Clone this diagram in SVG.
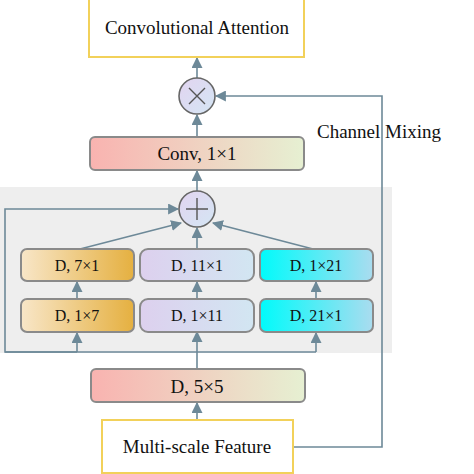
<svg xmlns="http://www.w3.org/2000/svg" width="474" height="474" viewBox="0 0 474 474">
<defs>
<linearGradient id="gPink" x1="0" y1="0" x2="1" y2="0"><stop offset="0" stop-color="#f9b3b0"/><stop offset="1" stop-color="#e6f0d2"/></linearGradient>
<linearGradient id="gGold" x1="0" y1="0" x2="1" y2="0"><stop offset="0" stop-color="#f8e6c8"/><stop offset="1" stop-color="#e5b040"/></linearGradient>
<linearGradient id="gLav" x1="0" y1="0" x2="1" y2="0"><stop offset="0" stop-color="#ddd0ee"/><stop offset="1" stop-color="#d2e6f2"/></linearGradient>
<linearGradient id="gCyan" x1="0" y1="0" x2="1" y2="0"><stop offset="0" stop-color="#00fbfb"/><stop offset="1" stop-color="#aadcef"/></linearGradient>
<linearGradient id="gCirc" x1="0" y1="0" x2="1" y2="1"><stop offset="0" stop-color="#e2d4f0"/><stop offset="1" stop-color="#d4e6f4"/></linearGradient>
<marker id="ah" viewBox="0 0 10 10" refX="9" refY="5" markerWidth="11" markerHeight="11" markerUnits="userSpaceOnUse" orient="auto"><path d="M0,0 L10,5 L0,10 Z" fill="#6d8998"/></marker>
<style>
.ln{stroke:#6d8998;stroke-width:1.6;fill:none}
.box{stroke:#8a8a8a;stroke-width:2}
.yb{fill:#fff;stroke:#f2d15a;stroke-width:2}
.t{font-family:"Liberation Serif","Times New Roman",serif;fill:#111;text-anchor:middle}
.big{font-size:19px}
.sm{font-size:16px}
.circ{fill:url(#gCirc);stroke:#666;stroke-width:1.6}
</style>
</defs>
<rect x="0" y="187" width="392" height="166" fill="#eeeeee"/>
<g id="connectors">
<line class="ln" x1="197" y1="78" x2="197" y2="58" marker-end="url(#ah)"/>
<line class="ln" x1="197" y1="137" x2="197" y2="115" marker-end="url(#ah)"/>
<polyline class="ln" points="293,447 382,447 382,96 216,96" marker-end="url(#ah)"/>
<line class="ln" x1="197" y1="191" x2="197" y2="171" marker-end="url(#ah)"/>
<polyline class="ln" points="77,352 5,352 5,209 178,209" marker-end="url(#ah)"/>
<line class="ln" x1="5" y1="352" x2="316" y2="352"/>
<line class="ln" x1="77" y1="352" x2="77" y2="333" marker-end="url(#ah)"/>
<line class="ln" x1="316" y1="352" x2="316" y2="333" marker-end="url(#ah)"/>
<line class="ln" x1="197" y1="369" x2="197" y2="332" marker-end="url(#ah)"/>
<line class="ln" x1="77" y1="299" x2="77" y2="282" marker-end="url(#ah)"/>
<line class="ln" x1="197" y1="299" x2="197" y2="282" marker-end="url(#ah)"/>
<line class="ln" x1="316" y1="299" x2="316" y2="282" marker-end="url(#ah)"/>
<line class="ln" x1="80" y1="249" x2="181" y2="223" marker-end="url(#ah)"/>
<line class="ln" x1="197" y1="249" x2="197" y2="228" marker-end="url(#ah)"/>
<line class="ln" x1="313" y1="249" x2="213" y2="223" marker-end="url(#ah)"/>
<line class="ln" x1="197" y1="420" x2="197" y2="403" marker-end="url(#ah)"/>
</g>
<text class="t big" x="379" y="138">Channel Mixing</text>
<g id="n-attention"><rect class="yb" x="89" y="-2" width="215" height="59"/><text class="t big" x="197" y="34">Convolutional Attention</text></g>
<g id="n-mul"><circle class="circ" cx="197" cy="96" r="18"/><path d="M189,88 L205,104 M205,88 L189,104" stroke="#555" stroke-width="1.4"/></g>
<g id="n-conv"><rect class="box" x="90" y="137" width="214" height="33" rx="5" fill="url(#gPink)"/><text class="t big" x="197" y="160">Conv, 1×1</text></g>
<g id="n-add"><circle class="circ" cx="197" cy="209" r="18"/><path d="M186,209 L208,209 M197,198 L197,220" stroke="#555" stroke-width="1.4"/></g>
<g id="n-d7x1"><rect class="box" x="21" y="249" width="113" height="32" rx="6" fill="url(#gGold)"/><text class="t sm" x="77" y="271">D, 7×1</text></g>
<g id="n-d11x1"><rect class="box" x="140" y="249" width="114" height="32" rx="8" fill="url(#gLav)"/><text class="t sm" x="197" y="271">D, 11×1</text></g>
<g id="n-d1x21"><rect class="box" x="260" y="249" width="113" height="32" rx="6" fill="url(#gCyan)"/><text class="t sm" x="316" y="271">D, 1×21</text></g>
<g id="n-d1x7"><rect class="box" x="21" y="299" width="113" height="33" rx="6" fill="url(#gGold)"/><text class="t sm" x="77" y="321">D, 1×7</text></g>
<g id="n-d1x11"><rect class="box" x="140" y="299" width="114" height="33" rx="8" fill="url(#gLav)"/><text class="t sm" x="197" y="321">D, 1×11</text></g>
<g id="n-d21x1"><rect class="box" x="260" y="299" width="113" height="33" rx="6" fill="url(#gCyan)"/><text class="t sm" x="316" y="321">D, 21×1</text></g>
<g id="n-d5x5"><rect class="box" x="91" y="369" width="214" height="33" rx="5" fill="url(#gPink)"/><text class="t big" x="197" y="393">D, 5×5</text></g>
<g id="n-feature"><rect class="yb" x="102" y="420" width="191" height="53"/><text class="t big" x="197" y="453">Multi-scale Feature</text></g>
</svg>
